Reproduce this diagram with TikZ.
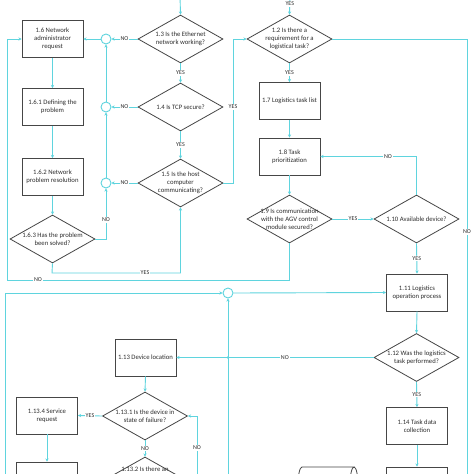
\documentclass[tikz,border=0pt]{standalone}
\usepackage{fontspec}
\setmainfont{Carlito}
\usetikzlibrary{shapes.geometric,arrows.meta}
\definecolor{cy}{RGB}{95,212,222}
\definecolor{bx}{RGB}{70,70,70}
\definecolor{tx}{RGB}{45,45,45}
\tikzset{
  stepbox/.style={draw=bx,fill=white,line width=0.8pt,minimum width=61pt,minimum height=37pt,
    inner sep=0pt,align=center,text=tx,font=\fontsize{6.7}{8}\selectfont},
  dec/.style={diamond,draw=bx,fill=white,line width=0.8pt,minimum width=85pt,minimum height=48pt,inner sep=0pt},
  dtext/.style={text=tx,align=center,inner sep=0pt,font=\fontsize{6.7}{8}\selectfont},
  conn/.style={draw=cy,line width=0.9pt,-{Stealth[length=3.2pt,width=3.2pt]}},
  plainconn/.style={draw=cy,line width=0.9pt},
  lbl/.style={fill=white,inner sep=1pt,text=tx,font=\fontsize{6}{7}\selectfont},
  junc/.style={circle,draw=cy,fill=white,line width=0.9pt,minimum size=10pt,inner sep=0pt},
  storeline/.style={draw=bx,fill=white,line width=0.8pt}
}
\begin{document}
\begin{tikzpicture}[x=1pt,y=-1pt]
\useasboundingbox (0,0) rectangle (474,474);
\clip (0,0) rectangle (474,474);
\fill[white] (0,0) rectangle (474,474);

% free coordinates
\coordinate (t13) at (180,-5);
\coordinate (t12) at (290,-5);
\coordinate (wL) at (7,280);
\coordinate (b1) at (52,273);
\coordinate (rB) at (467,480);
\coordinate (lB) at (5,480);
\coordinate (mB) at (228,480);
\coordinate (nB) at (197,480);

% left column (upper)
\node[stepbox] (n16) at (52.5,39) {1.6 Network\\administrator\\request};
\node[stepbox] (n161) at (52.5,107) {1.6.1 Defining the\\problem};
\node[stepbox] (n162) at (52.5,177) {1.6.2 Network\\problem resolution};
\node[dec] (n163) at (52.5,239) {};
\node[dtext] (n163t) at (n163) {1.6.3 Has the problem\\been solved?};

% junction circles
\node[junc] (c1) at (106,39) {};
\node[junc] (c2) at (106,107) {};
\node[junc] (c3) at (106,183) {};
\node[junc] (c4) at (228,293) {};

% middle column
\node[dec] (n13) at (180.5,39) {};
\node[dtext] (n13t) at (n13) {1.3 Is the Ethernet\\network working?};
\node[dec] (n14) at (180.5,107) {};
\node[dtext] (n14t) at (n14) {1.4 Is TCP secure?};
\node[dec] (n15) at (180.5,183) {};
\node[dtext] (n15t) at (n15) {1.5 Is the host\\computer\\communicating?};

% right-middle column
\node[dec] (n12) at (289.5,39) {};
\node[dtext] (n12t) at (n12) {1.2 Is there a\\requirement for a\\logistical task?};
\node[stepbox] (n17) at (289.5,101) {1.7 Logistics task list};
\node[stepbox] (n18) at (289.5,156.5) {1.8 Task\\prioritization};
\node[dec] (n19) at (289.5,219) {};
\node[dtext] (n19t) at (n19) {1.9 Is communication\\with the AGV control\\module secured?};

% right column
\node[dec] (n110) at (416.5,219) {};
\node[dtext] (n110t) at (n110) {1.10 Available device?};
\node[stepbox] (n111) at (417,292.5) {1.11 Logistics\\operation process};
\node[dec] (n112) at (416.5,357.5) {};
\node[dtext] (n112t) at (n112) {1.12 Was the logistics\\task performed?};
\node[stepbox] (n114) at (417,426) {1.14 Task data\\collection};
\node[stepbox] (n115) at (417,485.5) {};

% storage shape (horizontal cylinder, cut by the lower edge)
\coordinate (st) at (328,485);
\path[storeline] (302,467) -- (354,467)
  arc[start angle=90,end angle=270,x radius=4pt,y radius=18pt]
  arc[start angle=270,end angle=450,x radius=4pt,y radius=18pt]
  -- (354,467) (302,467) arc[start angle=90,end angle=270,x radius=4pt,y radius=18pt] -- (354,503);

% lower left
\node[stepbox] (n113) at (145.5,357.5) {1.13 Device location};
\node[dec] (n1131) at (145,416) {};
\node[dtext] (n1131t) at (n1131) {1.13.1 Is the device in\\state of failure?};
\node[stepbox] (n1134) at (47,415.5) {1.13.4 Service\\request};
\node[stepbox] (n1135) at (47,480.5) {};
\node[dec] (n1132) at (145,481) {};
\node[dtext] (n1132t) at (145,469.5) {1.13.2 Is there an};

% connectors
\draw[conn] (t13) -- (n13.north);
\draw[conn] (t12) -- node[lbl,pos=0.45] {YES} (n12.north);
\draw[conn] (n13.south) -- node[lbl] {YES} (n14.north);
\draw[conn] (n14.south) -- node[lbl] {YES} (n15.north);
\draw[conn] (n13.west) -- node[lbl] {NO} (c1.east);
\draw[conn] (n14.west) -- node[lbl] {NO} (c2.east);
\draw[conn] (n15.west) -- node[lbl] {NO} (c3.east);
\draw[conn] (c1.west) -- (n16.east);
\draw[conn] (c2.north) -- (c1.south);
\draw[conn] (c3.north) -- (c2.south);
\draw[conn] (n16.south) -- (n161.north);
\draw[conn] (n161.south) -- (n162.north);
\draw[conn] (n162.south) -- (n163.north);
\draw[conn] (n163.east) -| (c3.south);
\node[lbl] (lno1) at (106,220) {NO};
\draw[conn] (n163.south) -- (b1) -| (n15.south);
\node[lbl] (lyes1) at (145,273) {YES};
\draw[conn] (n15.east) -- ++(10,0) |- (n12.west);
\node[lbl] (lyes2) at (233,107) {YES};
\draw[conn] (n12.south) -- node[lbl] {YES} (n17.north);
\draw[conn] (n17.south) -- (n18.north);
\draw[conn] (n18.south) -- (n19.north);
\draw[conn] (n19.east) -- node[lbl] {YES} (n110.west);
\draw[conn] (n110.north) |- (n18.east);
\node[lbl] (lno2) at (388,156.5) {NO};
\draw[conn] (n110.south) -- node[lbl] {YES} (n111.north);
\draw[conn] (n19.south) |- (wL) |- (n16.west);
\node[lbl] (lno3) at (38,280) {NO};
\draw[plainconn] (n12.east) -| (rB);
\node[lbl] (lno4) at (467,232) {NO};
\draw[conn] (c4.east) -- (n111.west);
\draw[conn] (lB) |- (c4.west);
\draw[conn] (mB) -- (c4.south);
\fill[cy] (228,357.5) circle (1.3pt);
\draw[conn] (n111.south) -- (n112.north);
\draw[conn] (n112.west) -- node[lbl,pos=0.45] {NO} (n113.east);
\draw[conn] (n112.south) -- node[lbl] {YES} (n114.north);
\draw[conn] (n114.south) -- (n115.north);
\draw[conn] (n113.south) -- (n1131.north);
\draw[conn] (n1131.west) -- node[lbl] {YES} (n1134.east);
\draw[conn] (n1131.south) -- node[lbl] {NO} (n1132.north);
\draw[conn] (nB) |- (n1131.east);
\node[lbl] (lno5) at (197,448) {NO};
\draw[conn] (n1134.south) -- (n1135.north);
\end{tikzpicture}
\end{document}
